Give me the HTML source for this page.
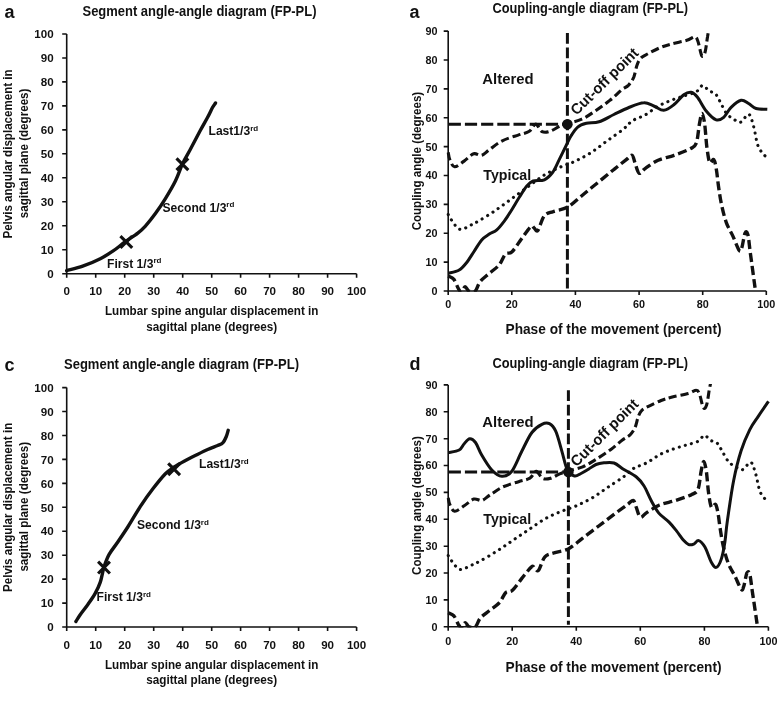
<!DOCTYPE html>
<html><head><meta charset="utf-8"><title>Figure</title>
<style>
html,body{margin:0;padding:0;background:#fff}
svg{display:block}
text{font-family:"Liberation Sans",Arial,sans-serif;font-weight:bold;fill:#111}
.ax{stroke:#111;stroke-width:1.6;fill:none}
.c{stroke:#111;fill:none;stroke-linejoin:round}
</style></head><body>
<svg width="778" height="702" viewBox="0 0 778 702">
<rect width="778" height="702" fill="#fff"/>
<text x="4.5" y="18.0" font-size="18.00" text-anchor="start">a</text>
<text x="82.5" y="16.0" font-size="13.80" text-anchor="start" textLength="234.0" lengthAdjust="spacingAndGlyphs">Segment angle-angle diagram (FP-PL)</text>
<path class="ax" d="M66.7 34.0 V273.7 H356.6"/>
<path class="ax" d="M66.7 273.7v4M95.7 273.7v4M124.7 273.7v4M153.7 273.7v4M182.7 273.7v4M211.7 273.7v4M240.6 273.7v4M269.6 273.7v4M298.6 273.7v4M327.6 273.7v4M356.6 273.7v4M66.7 273.7h-4.5M66.7 249.7h-4.5M66.7 225.8h-4.5M66.7 201.8h-4.5M66.7 177.8h-4.5M66.7 153.8h-4.5M66.7 129.9h-4.5M66.7 105.9h-4.5M66.7 81.9h-4.5M66.7 58.0h-4.5M66.7 34.0h-4.5"/>
<text x="66.7" y="294.5" font-size="11.60" text-anchor="middle">0</text>
<text x="95.7" y="294.5" font-size="11.60" text-anchor="middle">10</text>
<text x="124.7" y="294.5" font-size="11.60" text-anchor="middle">20</text>
<text x="153.7" y="294.5" font-size="11.60" text-anchor="middle">30</text>
<text x="182.7" y="294.5" font-size="11.60" text-anchor="middle">40</text>
<text x="211.7" y="294.5" font-size="11.60" text-anchor="middle">50</text>
<text x="240.6" y="294.5" font-size="11.60" text-anchor="middle">60</text>
<text x="269.6" y="294.5" font-size="11.60" text-anchor="middle">70</text>
<text x="298.6" y="294.5" font-size="11.60" text-anchor="middle">80</text>
<text x="327.6" y="294.5" font-size="11.60" text-anchor="middle">90</text>
<text x="356.6" y="294.5" font-size="11.60" text-anchor="middle">100</text>
<text x="53.6" y="277.9" font-size="11.60" text-anchor="end">0</text>
<text x="53.6" y="253.9" font-size="11.60" text-anchor="end">10</text>
<text x="53.6" y="229.9" font-size="11.60" text-anchor="end">20</text>
<text x="53.6" y="206.0" font-size="11.60" text-anchor="end">30</text>
<text x="53.6" y="182.0" font-size="11.60" text-anchor="end">40</text>
<text x="53.6" y="158.0" font-size="11.60" text-anchor="end">50</text>
<text x="53.6" y="134.1" font-size="11.60" text-anchor="end">60</text>
<text x="53.6" y="110.1" font-size="11.60" text-anchor="end">70</text>
<text x="53.6" y="86.1" font-size="11.60" text-anchor="end">80</text>
<text x="53.6" y="62.1" font-size="11.60" text-anchor="end">90</text>
<text x="53.6" y="38.2" font-size="11.60" text-anchor="end">100</text>
<text transform="translate(12.0 154.0) rotate(-90)" font-size="12.40" text-anchor="middle" textLength="169.2" lengthAdjust="spacingAndGlyphs">Pelvis angular displacement in</text>
<text transform="translate(27.6 153.4) rotate(-90)" font-size="12.40" text-anchor="middle" textLength="129.6" lengthAdjust="spacingAndGlyphs">sagittal plane (degrees)</text>
<text x="211.7" y="315.0" font-size="12.60" text-anchor="middle" textLength="213.5" lengthAdjust="spacingAndGlyphs">Lumbar spine angular displacement in</text>
<text x="211.7" y="330.8" font-size="12.60" text-anchor="middle" textLength="131.0" lengthAdjust="spacingAndGlyphs">sagittal plane (degrees)</text>
<path class="c" stroke-width="3.4" stroke-linecap="round" d="M66.7 270.7C69.4 269.9 77.1 268.2 82.7 266.2C88.3 264.2 95.3 261.2 100.3 258.7C105.3 256.2 108.6 254.0 112.8 251.2C117.0 248.4 121.1 244.7 125.3 241.7C129.5 238.7 134.5 235.7 137.8 233.1C141.2 230.5 142.5 229.3 145.4 226.1C148.3 222.8 152.1 218.2 155.4 213.6C158.7 209.0 162.1 204.0 165.4 198.6C168.7 193.2 172.5 186.9 175.4 181.0C178.3 175.1 180.3 168.6 182.7 163.4C185.1 158.2 187.1 155.4 190.0 150.0C192.9 144.6 197.1 136.4 200.0 131.0C202.9 125.6 205.4 121.4 207.5 117.5C209.6 113.6 211.2 109.9 212.5 107.5C213.8 105.1 215.0 103.8 215.5 103.0"/>
<path class="c" stroke-width="3.1" d="M120.4 236.1l11.8 11.8M120.4 247.9l11.8 -11.8"/>
<path class="c" stroke-width="3.1" d="M176.5 158.3l11.8 11.8M176.5 170.1l11.8 -11.8"/>
<text x="107.0" y="267.5" font-size="12.10" text-anchor="start">First 1/3<tspan font-size="8" dy="-4.2">rd</tspan></text>
<text x="162.5" y="211.5" font-size="12.10" text-anchor="start">Second 1/3<tspan font-size="8" dy="-4.2">rd</tspan></text>
<text x="208.5" y="135.0" font-size="12.10" text-anchor="start">Last1/3<tspan font-size="8" dy="-4.2">rd</tspan></text>
<text x="4.5" y="370.5" font-size="18.00" text-anchor="start">c</text>
<text x="64.0" y="369.0" font-size="13.80" text-anchor="start" textLength="235.0" lengthAdjust="spacingAndGlyphs">Segment angle-angle diagram (FP-PL)</text>
<path class="ax" d="M66.7 387.6 V627.0 H356.6"/>
<path class="ax" d="M66.7 627.0v4M95.7 627.0v4M124.7 627.0v4M153.7 627.0v4M182.7 627.0v4M211.7 627.0v4M240.6 627.0v4M269.6 627.0v4M298.6 627.0v4M327.6 627.0v4M356.6 627.0v4M66.7 627.0h-4.5M66.7 603.1h-4.5M66.7 579.1h-4.5M66.7 555.2h-4.5M66.7 531.2h-4.5M66.7 507.3h-4.5M66.7 483.4h-4.5M66.7 459.4h-4.5M66.7 435.5h-4.5M66.7 411.5h-4.5M66.7 387.6h-4.5"/>
<text x="66.7" y="649.0" font-size="11.60" text-anchor="middle">0</text>
<text x="95.7" y="649.0" font-size="11.60" text-anchor="middle">10</text>
<text x="124.7" y="649.0" font-size="11.60" text-anchor="middle">20</text>
<text x="153.7" y="649.0" font-size="11.60" text-anchor="middle">30</text>
<text x="182.7" y="649.0" font-size="11.60" text-anchor="middle">40</text>
<text x="211.7" y="649.0" font-size="11.60" text-anchor="middle">50</text>
<text x="240.6" y="649.0" font-size="11.60" text-anchor="middle">60</text>
<text x="269.6" y="649.0" font-size="11.60" text-anchor="middle">70</text>
<text x="298.6" y="649.0" font-size="11.60" text-anchor="middle">80</text>
<text x="327.6" y="649.0" font-size="11.60" text-anchor="middle">90</text>
<text x="356.6" y="649.0" font-size="11.60" text-anchor="middle">100</text>
<text x="53.6" y="631.2" font-size="11.60" text-anchor="end">0</text>
<text x="53.6" y="607.2" font-size="11.60" text-anchor="end">10</text>
<text x="53.6" y="583.3" font-size="11.60" text-anchor="end">20</text>
<text x="53.6" y="559.4" font-size="11.60" text-anchor="end">30</text>
<text x="53.6" y="535.4" font-size="11.60" text-anchor="end">40</text>
<text x="53.6" y="511.5" font-size="11.60" text-anchor="end">50</text>
<text x="53.6" y="487.5" font-size="11.60" text-anchor="end">60</text>
<text x="53.6" y="463.6" font-size="11.60" text-anchor="end">70</text>
<text x="53.6" y="439.7" font-size="11.60" text-anchor="end">80</text>
<text x="53.6" y="415.7" font-size="11.60" text-anchor="end">90</text>
<text x="53.6" y="391.8" font-size="11.60" text-anchor="end">100</text>
<text transform="translate(12.0 507.4) rotate(-90)" font-size="12.40" text-anchor="middle" textLength="169.2" lengthAdjust="spacingAndGlyphs">Pelvis angular displacement in</text>
<text transform="translate(27.6 506.8) rotate(-90)" font-size="12.40" text-anchor="middle" textLength="129.6" lengthAdjust="spacingAndGlyphs">sagittal plane (degrees)</text>
<text x="211.7" y="668.6" font-size="12.60" text-anchor="middle" textLength="213.5" lengthAdjust="spacingAndGlyphs">Lumbar spine angular displacement in</text>
<text x="211.7" y="684.4" font-size="12.60" text-anchor="middle" textLength="131.0" lengthAdjust="spacingAndGlyphs">sagittal plane (degrees)</text>
<path class="c" stroke-width="3.4" stroke-linecap="round" d="M75.9 621.5C76.6 620.4 78.2 617.5 80.2 614.7C82.2 611.9 85.2 608.2 87.7 604.7C90.2 601.2 93.1 597.2 95.2 593.4C97.3 589.6 98.8 586.5 100.3 582.1C101.8 577.7 102.5 571.7 104.0 567.1C105.5 562.5 106.7 558.8 109.0 554.6C111.3 550.4 114.7 546.6 117.8 542.0C120.9 537.4 124.0 532.9 127.8 527.0C131.6 521.1 136.2 512.8 140.4 506.4C144.6 500.0 148.7 494.2 152.9 488.8C157.1 483.4 161.9 477.4 165.4 473.8C168.9 470.2 170.8 469.2 174.2 467.0C177.5 464.8 182.0 462.4 185.5 460.5C189.0 458.6 191.5 457.3 195.2 455.5C198.9 453.7 203.9 451.2 207.7 449.5C211.4 447.8 215.1 446.6 217.7 445.5C220.2 444.4 221.6 444.1 223.0 442.6C224.4 441.1 225.4 438.6 226.3 436.5C227.2 434.4 227.9 431.3 228.2 430.3"/>
<path class="c" stroke-width="3.1" d="M98.1 561.7l11.8 11.8M98.1 573.5l11.8 -11.8"/>
<path class="c" stroke-width="3.1" d="M168.2 463.4l11.8 11.8M168.2 475.2l11.8 -11.8"/>
<text x="96.5" y="601.0" font-size="12.10" text-anchor="start">First 1/3<tspan font-size="8" dy="-4.2">rd</tspan></text>
<text x="137.0" y="529.0" font-size="12.10" text-anchor="start">Second 1/3<tspan font-size="8" dy="-4.2">rd</tspan></text>
<text x="199.0" y="468.2" font-size="12.10" text-anchor="start">Last1/3<tspan font-size="8" dy="-4.2">rd</tspan></text>
<text x="409.6" y="18.0" font-size="18.00" text-anchor="start">a</text>
<text x="492.5" y="13.4" font-size="13.80" text-anchor="start" textLength="195.5" lengthAdjust="spacingAndGlyphs">Coupling-angle diagram (FP-PL)</text>
<path class="ax" d="M448.2 31.1 V291.0 H766.3"/>
<path class="ax" d="M448.2 291.0v4M511.8 291.0v4M575.4 291.0v4M639.1 291.0v4M702.7 291.0v4M766.3 291.0v4M448.2 291.0h-4.5M448.2 262.1h-4.5M448.2 233.2h-4.5M448.2 204.4h-4.5M448.2 175.5h-4.5M448.2 146.6h-4.5M448.2 117.7h-4.5M448.2 88.9h-4.5M448.2 60.0h-4.5M448.2 31.1h-4.5"/>
<text x="448.2" y="307.5" font-size="10.80" text-anchor="middle">0</text>
<text x="511.8" y="307.5" font-size="10.80" text-anchor="middle">20</text>
<text x="575.4" y="307.5" font-size="10.80" text-anchor="middle">40</text>
<text x="639.1" y="307.5" font-size="10.80" text-anchor="middle">60</text>
<text x="702.7" y="307.5" font-size="10.80" text-anchor="middle">80</text>
<text x="766.3" y="307.5" font-size="10.80" text-anchor="middle">100</text>
<text x="437.5" y="294.9" font-size="10.80" text-anchor="end">0</text>
<text x="437.5" y="266.0" font-size="10.80" text-anchor="end">10</text>
<text x="437.5" y="237.1" font-size="10.80" text-anchor="end">20</text>
<text x="437.5" y="208.3" font-size="10.80" text-anchor="end">30</text>
<text x="437.5" y="179.4" font-size="10.80" text-anchor="end">40</text>
<text x="437.5" y="150.5" font-size="10.80" text-anchor="end">50</text>
<text x="437.5" y="121.6" font-size="10.80" text-anchor="end">60</text>
<text x="437.5" y="92.7" font-size="10.80" text-anchor="end">70</text>
<text x="437.5" y="63.9" font-size="10.80" text-anchor="end">80</text>
<text x="437.5" y="35.0" font-size="10.80" text-anchor="end">90</text>
<text transform="translate(420.8 161.1) rotate(-90)" font-size="12.40" text-anchor="middle" textLength="138.5" lengthAdjust="spacingAndGlyphs">Coupling angle (degrees)</text>
<text x="613.5" y="334.3" font-size="14.20" text-anchor="middle" textLength="216.0" lengthAdjust="spacingAndGlyphs">Phase of the movement (percent)</text>
<clipPath id="cpa291"><rect x="446.2" y="30.1" width="324.1" height="261.7"/></clipPath>
<g clip-path="url(#cpa291)">
<path class="c" stroke-width="3.1" stroke-dasharray="8.2 3.8" d="M448.2 152.4C448.5 153.6 448.7 157.2 449.8 159.6C450.9 162.0 452.2 166.6 454.6 166.8C456.9 167.1 460.9 163.2 464.1 161.1C467.3 158.9 470.7 154.8 473.6 153.8C476.6 152.9 478.9 156.0 481.6 155.3C484.3 154.6 486.1 151.9 489.6 149.5C493.0 147.1 497.5 143.2 502.3 140.8C507.0 138.4 513.7 136.6 518.2 135.1C522.7 133.5 526.4 133.1 529.3 131.3C532.2 129.5 533.6 124.0 535.7 124.1C537.8 124.1 539.7 130.4 542.0 131.6C544.4 132.8 547.1 132.2 550.0 131.3C552.9 130.4 556.6 127.7 559.5 126.4C562.5 125.1 563.8 124.7 567.5 123.5C571.2 122.3 577.1 121.3 581.8 119.2C586.5 117.1 590.8 113.9 595.5 110.8C600.1 107.7 605.5 103.8 609.8 100.4C614.1 97.0 618.1 92.9 621.2 90.3C624.4 87.7 626.5 87.3 628.6 85.1C630.6 82.9 632.3 80.5 633.7 77.3C635.0 74.1 635.8 68.8 636.8 65.8C637.9 62.7 638.6 60.9 640.0 59.1C641.4 57.3 642.1 56.9 645.4 55.1C648.7 53.2 655.5 49.7 659.7 47.8C664.0 46.0 666.4 45.3 670.9 44.1C675.4 42.8 682.8 41.5 686.8 40.3C690.8 39.1 692.9 36.7 694.7 36.9C696.6 37.0 696.7 38.1 697.9 41.2C699.1 44.3 700.6 53.7 701.7 55.6C702.9 57.6 704.0 55.9 704.9 52.8C705.9 49.6 706.8 41.0 707.5 36.9C708.1 32.8 708.8 29.7 709.0 28.2"/>
<path class="c" stroke-width="3.1" stroke-linecap="round" stroke-dasharray="0.1 6.2" d="M448.2 214.5C449.3 216.2 452.4 222.1 454.6 224.6C456.7 227.1 458.3 229.4 460.9 229.5C463.6 229.6 467.3 226.7 470.5 225.2C473.6 223.6 475.8 222.8 480.0 220.2C484.3 217.7 490.6 213.8 495.9 210.1C501.2 206.5 506.5 202.4 511.8 198.6C517.1 194.7 522.4 190.9 527.7 187.0C533.0 183.2 538.3 178.8 543.6 175.5C548.9 172.2 554.2 169.8 559.5 167.4C564.8 165.0 570.1 163.6 575.4 161.1C580.7 158.5 586.0 155.8 591.3 152.4C596.6 149.0 601.9 144.7 607.2 140.8C612.6 137.0 618.9 132.7 623.2 129.3C627.4 125.9 629.0 123.0 632.7 120.6C636.4 118.2 641.2 117.3 645.4 114.8C649.7 112.4 653.9 108.6 658.1 106.2C662.4 103.8 666.6 102.1 670.9 100.4C675.1 98.7 679.4 97.5 683.6 96.1C687.8 94.6 693.1 93.5 696.3 91.7C699.5 90.0 700.6 85.5 702.7 85.4C704.8 85.2 706.9 89.5 709.0 90.9C711.2 92.3 713.5 91.9 715.4 93.8C717.3 95.6 718.3 98.6 720.2 101.9C722.0 105.1 724.2 110.4 726.5 113.4C728.9 116.4 732.1 118.3 734.5 119.8C736.9 121.2 738.5 123.0 740.9 122.1C743.2 121.2 746.7 113.5 748.8 114.3C750.9 115.0 752.0 121.0 753.6 126.4C755.2 131.8 756.2 141.5 758.3 146.6C760.5 151.8 765.0 155.5 766.3 157.3"/>
<path class="c" stroke-width="3.4" stroke-dasharray="9 4" d="M448.2 276.0C449.2 276.6 452.2 277.3 453.9 279.4C455.6 281.6 457.1 286.6 458.4 288.7C459.7 290.8 460.4 292.2 461.6 291.9C462.7 291.5 463.8 286.8 465.1 286.7C466.3 286.5 467.2 290.3 468.9 291.0C470.6 291.7 473.4 292.5 475.2 291.0C477.1 289.5 477.7 284.6 480.0 281.8C482.3 278.9 485.7 276.5 488.9 273.7C492.1 270.9 496.3 268.3 499.1 265.0C501.9 261.7 503.3 256.2 505.5 254.0C507.6 251.9 509.2 254.5 511.8 252.0C514.5 249.5 518.2 243.3 521.4 239.0C524.5 234.8 528.8 228.4 530.9 226.6C533.0 224.8 532.9 227.4 534.1 228.0C535.3 228.7 536.2 232.4 537.9 230.4C539.6 228.3 541.7 219.0 544.3 215.9C546.8 212.8 549.3 213.0 553.2 211.6C557.0 210.1 562.7 209.9 567.5 207.3C572.3 204.6 576.8 199.8 581.8 195.7C586.8 191.6 592.4 187.0 597.7 182.7C603.0 178.4 608.8 173.6 613.6 169.7C618.4 165.9 623.3 162.0 626.3 159.6C629.4 157.2 630.6 154.8 632.1 155.3C633.5 155.8 633.8 159.5 634.9 162.5C636.1 165.5 637.3 172.2 639.1 173.2C640.8 174.1 642.2 170.4 645.4 168.3C648.6 166.1 653.4 162.3 658.1 160.2C662.9 158.0 668.7 157.2 674.1 155.3C679.4 153.4 686.2 150.9 690.0 148.9C693.7 146.9 694.7 147.4 696.3 143.1C697.9 138.9 698.5 128.5 699.5 123.5C700.5 118.6 701.2 113.4 702.0 113.4C702.9 113.4 703.8 118.0 704.6 123.5C705.4 129.0 706.0 140.1 706.8 146.6C707.7 153.1 708.5 160.3 709.7 162.5C710.8 164.7 712.7 158.4 713.8 159.6C714.9 160.8 715.6 165.1 716.4 169.7C717.2 174.3 717.7 181.0 718.6 187.0C719.5 193.1 720.4 199.8 721.8 205.8C723.1 211.8 724.7 218.1 726.5 223.1C728.4 228.2 730.8 231.6 732.9 236.1C735.0 240.7 737.8 248.6 739.3 250.6C740.7 252.5 740.9 250.6 741.8 247.7C742.8 244.8 744.0 235.4 745.0 233.2C746.0 231.1 746.9 231.3 747.9 234.7C748.8 238.1 749.1 244.1 750.4 253.5C751.7 262.8 754.6 284.7 755.5 291.0"/>
<path class="c" stroke-width="3" d="M448.6 273.2C450.4 272.7 456.2 271.8 459.2 270.0C462.2 268.2 464.2 265.6 466.7 262.5C469.2 259.4 471.7 255.0 474.2 251.2C476.7 247.4 479.2 242.8 481.7 239.9C484.2 237.1 486.8 235.8 489.3 234.1C491.8 232.4 494.3 232.1 496.8 229.9C499.3 227.7 501.8 224.4 504.3 221.1C506.8 217.8 509.3 213.8 511.8 209.8C514.3 205.8 516.8 201.3 519.3 197.3C521.8 193.3 524.5 188.7 526.8 186.0C529.1 183.3 530.2 182.0 533.1 181.0C536.0 180.0 541.2 181.2 544.4 179.8C547.6 178.4 550.0 175.8 552.5 172.5C555.0 169.2 556.9 164.2 559.1 159.9C561.3 155.6 563.7 150.5 565.7 146.5C567.7 142.5 569.1 139.0 571.1 135.8C573.1 132.6 575.2 129.2 577.7 127.1C580.2 125.0 582.9 124.2 586.4 123.3C589.9 122.4 594.4 123.3 599.0 121.8C603.6 120.3 608.9 116.9 613.9 114.5C618.9 112.1 623.9 109.5 628.9 107.5C633.9 105.5 639.8 103.0 643.9 102.8C648.0 102.5 650.5 104.8 653.8 106.0C657.1 107.2 660.5 110.5 663.8 110.3C667.1 110.1 670.5 107.4 673.8 104.8C677.1 102.2 680.9 96.9 683.8 94.8C686.7 92.7 688.9 91.9 691.2 92.3C693.5 92.7 695.0 94.2 697.5 97.3C700.0 100.4 703.1 107.2 706.2 111.0C709.3 114.8 713.3 118.8 716.2 119.8C719.1 120.8 721.2 119.4 723.7 117.3C726.2 115.2 728.2 110.1 731.1 107.3C734.0 104.5 738.2 100.9 741.1 100.3C744.0 99.7 746.1 102.1 748.6 103.5C751.1 104.9 753.0 107.5 756.1 108.5C759.2 109.5 765.4 109.2 767.3 109.3"/>
</g>
<path class="c" stroke-width="3.1" stroke-dasharray="12.2 4" d="M448.7 124.3H567.4"/>
<path class="c" stroke-width="3" stroke-dasharray="10.8 3.6" d="M567.4 33.0V289.0"/>
<circle cx="567.4" cy="124.3" r="5.3" fill="#111"/>
<text x="482.3" y="83.5" font-size="15.00" text-anchor="start" textLength="51.3" lengthAdjust="spacingAndGlyphs">Altered</text>
<text x="483.3" y="180.0" font-size="15.00" text-anchor="start" textLength="47.8" lengthAdjust="spacingAndGlyphs">Typical</text>
<text transform="translate(576.5 116.0) rotate(-44.5)" font-size="15" textLength="88.4" lengthAdjust="spacingAndGlyphs">Cut-off point</text>
<text x="409.6" y="370.3" font-size="18.00" text-anchor="start">d</text>
<text x="492.5" y="368.0" font-size="13.80" text-anchor="start" textLength="195.5" lengthAdjust="spacingAndGlyphs">Coupling-angle diagram (FP-PL)</text>
<path class="ax" d="M448.2 384.9 V626.8 H768.4"/>
<path class="ax" d="M448.2 626.8v4M512.2 626.8v4M576.3 626.8v4M640.3 626.8v4M704.4 626.8v4M768.4 626.8v4M448.2 626.8h-4.5M448.2 599.9h-4.5M448.2 573.0h-4.5M448.2 546.2h-4.5M448.2 519.3h-4.5M448.2 492.4h-4.5M448.2 465.5h-4.5M448.2 438.7h-4.5M448.2 411.8h-4.5M448.2 384.9h-4.5"/>
<text x="448.2" y="645.3" font-size="10.80" text-anchor="middle">0</text>
<text x="512.2" y="645.3" font-size="10.80" text-anchor="middle">20</text>
<text x="576.3" y="645.3" font-size="10.80" text-anchor="middle">40</text>
<text x="640.3" y="645.3" font-size="10.80" text-anchor="middle">60</text>
<text x="704.4" y="645.3" font-size="10.80" text-anchor="middle">80</text>
<text x="768.4" y="645.3" font-size="10.80" text-anchor="middle">100</text>
<text x="437.5" y="630.7" font-size="10.80" text-anchor="end">0</text>
<text x="437.5" y="603.8" font-size="10.80" text-anchor="end">10</text>
<text x="437.5" y="576.9" font-size="10.80" text-anchor="end">20</text>
<text x="437.5" y="550.1" font-size="10.80" text-anchor="end">30</text>
<text x="437.5" y="523.2" font-size="10.80" text-anchor="end">40</text>
<text x="437.5" y="496.3" font-size="10.80" text-anchor="end">50</text>
<text x="437.5" y="469.4" font-size="10.80" text-anchor="end">60</text>
<text x="437.5" y="442.5" font-size="10.80" text-anchor="end">70</text>
<text x="437.5" y="415.7" font-size="10.80" text-anchor="end">80</text>
<text x="437.5" y="388.8" font-size="10.80" text-anchor="end">90</text>
<text transform="translate(420.8 505.5) rotate(-90)" font-size="12.40" text-anchor="middle" textLength="138.8" lengthAdjust="spacingAndGlyphs">Coupling angle (degrees)</text>
<text x="613.5" y="672.0" font-size="14.20" text-anchor="middle" textLength="216.0" lengthAdjust="spacingAndGlyphs">Phase of the movement (percent)</text>
<clipPath id="cpd626"><rect x="446.2" y="383.9" width="326.2" height="243.7"/></clipPath>
<g clip-path="url(#cpd626)">
<path class="c" stroke-width="3.1" stroke-dasharray="8.2 3.8" d="M448.2 497.8C448.5 498.9 448.7 502.3 449.8 504.5C450.9 506.7 452.2 511.0 454.6 511.2C457.0 511.4 461.0 507.9 464.2 505.8C467.4 503.8 470.9 500.0 473.8 499.1C476.8 498.2 479.2 501.1 481.8 500.5C484.5 499.8 486.4 497.3 489.8 495.1C493.3 492.9 497.8 489.3 502.6 487.0C507.4 484.8 514.1 483.1 518.6 481.7C523.2 480.2 526.9 479.9 529.9 478.2C532.8 476.5 534.1 471.4 536.3 471.4C538.4 471.5 540.3 477.3 542.7 478.4C545.1 479.6 547.7 479.0 550.7 478.2C553.6 477.4 557.3 474.8 560.3 473.6C563.2 472.4 564.5 472.0 568.3 470.9C572.0 469.8 578.0 468.8 582.7 466.9C587.4 464.9 591.8 462.0 596.5 459.1C601.1 456.2 606.5 452.6 610.9 449.4C615.2 446.2 619.2 442.4 622.4 440.0C625.5 437.6 627.7 437.2 629.8 435.2C631.8 433.1 633.5 430.9 634.9 427.9C636.3 424.9 637.0 420.0 638.1 417.2C639.1 414.3 639.8 412.6 641.3 411.0C642.7 409.3 643.4 409.0 646.7 407.2C650.0 405.5 656.9 402.2 661.1 400.5C665.4 398.8 667.8 398.2 672.3 397.0C676.9 395.8 684.3 394.6 688.4 393.5C692.4 392.4 694.5 390.1 696.4 390.3C698.2 390.4 698.4 391.4 699.6 394.3C700.7 397.2 702.2 406.0 703.4 407.7C704.6 409.5 705.6 408.0 706.6 405.1C707.6 402.1 708.5 394.1 709.2 390.3C709.9 386.5 710.5 383.6 710.8 382.2"/>
<path class="c" stroke-width="3.1" stroke-linecap="round" stroke-dasharray="0.1 6.2" d="M448.2 555.6C449.3 557.1 452.5 562.7 454.6 565.0C456.7 567.3 458.3 569.5 461.0 569.6C463.7 569.6 467.4 567.0 470.6 565.5C473.8 564.1 476.0 563.3 480.2 560.9C484.5 558.6 490.9 554.9 496.2 551.5C501.6 548.2 506.9 544.4 512.2 540.8C517.6 537.2 522.9 533.6 528.2 530.0C533.6 526.5 538.9 522.3 544.3 519.3C549.6 516.2 554.9 514.0 560.3 511.8C565.6 509.5 570.9 508.2 576.3 505.8C581.6 503.5 587.0 500.9 592.3 497.8C597.6 494.7 603.0 490.6 608.3 487.0C613.6 483.5 620.0 479.4 624.3 476.3C628.6 473.1 630.2 470.5 633.9 468.2C637.7 466.0 642.5 465.1 646.7 462.8C651.0 460.6 655.3 457.0 659.5 454.8C663.8 452.5 668.1 451.0 672.3 449.4C676.6 447.8 680.9 446.7 685.1 445.4C689.4 444.0 694.8 443.0 698.0 441.3C701.2 439.7 702.2 435.6 704.4 435.4C706.5 435.3 708.6 439.2 710.8 440.5C712.9 441.8 715.3 441.5 717.2 443.2C719.0 444.9 720.1 447.7 722.0 450.8C723.8 453.8 726.0 458.7 728.4 461.5C730.8 464.3 734.0 466.1 736.4 467.4C738.8 468.8 740.4 470.4 742.8 469.6C745.2 468.7 748.7 461.6 750.8 462.3C752.9 463.0 754.0 468.6 755.6 473.6C757.2 478.6 758.3 487.6 760.4 492.4C762.5 497.2 767.1 500.7 768.4 502.4"/>
<path class="c" stroke-width="3.4" stroke-dasharray="9 4" d="M448.2 612.8C449.2 613.4 452.3 614.1 454.0 616.0C455.7 618.0 457.2 622.7 458.4 624.6C459.7 626.6 460.5 627.9 461.6 627.6C462.8 627.3 463.9 622.9 465.2 622.8C466.4 622.6 467.3 626.1 469.0 626.8C470.7 627.5 473.5 628.2 475.4 626.8C477.3 625.4 477.9 620.9 480.2 618.2C482.5 615.5 486.0 613.3 489.2 610.7C492.4 608.1 496.7 605.7 499.4 602.6C502.2 599.6 503.7 594.4 505.8 592.4C508.0 590.4 509.6 592.8 512.2 590.5C514.9 588.2 518.6 582.4 521.8 578.4C525.0 574.5 529.3 568.6 531.5 566.9C533.6 565.2 533.5 567.6 534.7 568.2C535.8 568.8 536.8 572.2 538.5 570.4C540.2 568.5 542.3 559.8 544.9 556.9C547.5 554.0 550.0 554.2 553.9 552.9C557.8 551.5 563.5 551.3 568.3 548.9C573.1 546.4 577.6 541.9 582.7 538.1C587.8 534.3 593.4 530.0 598.7 526.0C604.0 522.0 609.9 517.5 614.7 513.9C619.5 510.3 624.4 506.7 627.5 504.5C630.6 502.3 631.8 500.0 633.3 500.5C634.7 500.9 635.0 504.4 636.2 507.2C637.3 510.0 638.6 516.2 640.3 517.1C642.1 518.0 643.5 514.6 646.7 512.6C649.9 510.6 654.7 507.1 659.5 505.0C664.3 503.0 670.2 502.2 675.5 500.5C680.9 498.7 687.8 496.4 691.6 494.6C695.3 492.7 696.4 493.1 698.0 489.2C699.6 485.2 700.2 475.5 701.2 470.9C702.1 466.3 702.9 461.5 703.7 461.5C704.6 461.5 705.5 465.8 706.3 470.9C707.1 476.1 707.7 486.4 708.5 492.4C709.4 498.5 710.2 505.2 711.4 507.2C712.6 509.2 714.4 503.4 715.6 504.5C716.7 505.6 717.3 509.7 718.1 513.9C718.9 518.2 719.5 524.4 720.4 530.0C721.3 535.6 722.2 541.9 723.6 547.5C724.9 553.1 726.5 558.9 728.4 563.6C730.2 568.3 732.6 571.5 734.8 575.7C736.9 580.0 739.7 587.4 741.2 589.2C742.7 591.0 742.8 589.2 743.7 586.5C744.7 583.8 745.9 575.1 746.9 573.0C748.0 571.0 748.9 571.3 749.8 574.4C750.7 577.5 751.1 583.1 752.4 591.9C753.7 600.6 756.7 621.0 757.5 626.8"/>
<path class="c" stroke-width="3" d="M448.6 452.5C450.4 452.1 456.6 451.5 459.2 450.0C461.8 448.5 462.4 445.6 464.2 443.7C465.9 441.8 467.8 438.9 469.7 438.7C471.6 438.5 473.5 439.8 475.5 442.5C477.5 445.2 479.0 450.4 481.7 455.0C484.4 459.6 488.4 466.4 491.8 470.0C495.2 473.6 498.5 476.1 501.8 476.3C505.1 476.5 508.5 475.5 511.8 471.3C515.1 467.1 518.4 457.8 521.8 451.3C525.1 444.8 528.5 437.0 531.9 432.5C535.2 428.0 539.0 425.9 541.9 424.4C544.8 422.9 547.1 422.6 549.4 423.7C551.7 424.8 553.6 426.6 555.7 431.2C557.8 435.8 560.0 444.8 561.9 451.3C563.8 457.8 565.3 465.9 567.4 470.0C569.5 474.1 572.2 475.4 574.5 476.0C576.8 476.6 578.7 474.6 581.0 473.5C583.3 472.4 586.0 470.7 588.5 469.2C591.0 467.7 593.4 465.6 596.0 464.5C598.6 463.4 601.0 463.1 604.0 462.8C607.0 462.6 610.7 461.9 614.0 463.0C617.3 464.1 620.2 467.2 623.9 469.5C627.6 471.8 633.1 474.3 636.4 477.0C639.7 479.7 641.4 481.8 643.9 485.7C646.4 489.6 648.8 496.1 651.3 500.7C653.8 505.3 655.9 509.6 658.8 513.1C661.7 516.6 665.9 519.0 668.8 521.9C671.7 524.8 673.8 527.5 676.3 530.6C678.8 533.7 681.7 538.3 683.8 540.6C685.9 542.9 687.1 544.0 688.7 544.6C690.4 545.2 692.0 544.8 693.7 544.1C695.4 543.4 696.8 540.1 698.7 540.6C700.6 541.1 702.8 543.5 704.9 547.0C707.0 550.5 709.3 558.5 711.2 561.9C713.1 565.3 714.5 567.8 716.2 567.4C717.9 567.0 719.8 563.6 721.2 559.4C722.7 555.2 723.9 548.5 724.9 542.0C725.9 535.5 725.9 530.8 727.4 520.6C728.9 510.4 731.3 492.3 733.6 480.7C735.9 469.1 738.4 459.3 741.1 450.8C743.8 442.3 746.9 435.4 749.8 429.6C752.7 423.8 755.5 420.6 758.6 415.9C761.7 411.2 766.9 403.8 768.5 401.4"/>
</g>
<path class="c" stroke-width="3.1" stroke-dasharray="12.2 4" d="M448.7 472.0H568.4"/>
<path class="c" stroke-width="3" stroke-dasharray="10.8 3.6" d="M568.4 390.3V624.8"/>
<circle cx="568.4" cy="472.0" r="5.3" fill="#111"/>
<text x="482.3" y="426.7" font-size="15.00" text-anchor="start" textLength="51.3" lengthAdjust="spacingAndGlyphs">Altered</text>
<text x="483.3" y="524.0" font-size="15.00" text-anchor="start" textLength="47.8" lengthAdjust="spacingAndGlyphs">Typical</text>
<text transform="translate(576.5 467.5) rotate(-44.8)" font-size="15" textLength="88.7" lengthAdjust="spacingAndGlyphs">Cut-off point</text>
</svg>
</body></html>
